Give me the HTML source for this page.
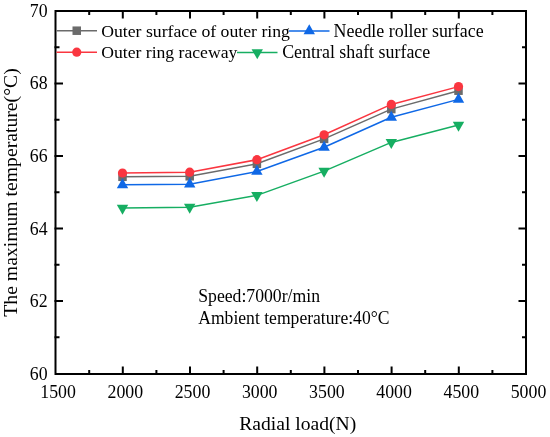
<!DOCTYPE html>
<html><head><meta charset="utf-8"><style>
html,body{margin:0;padding:0;background:#fff;}
svg{display:block;font-family:"Liberation Serif", "Times New Roman", serif;}
</style></head><body>
<svg width="550" height="437" viewBox="0 0 550 437">
<rect width="550" height="437" fill="#fff"/>
<rect x="55.5" y="11.0" width="470.50" height="363.00" fill="none" stroke="#000" stroke-width="2"/>
<path d="M89.20,375.00V370.00M89.20,10.00V15.00M122.80,375.00V366.50M122.80,10.00V18.50M156.40,375.00V370.00M156.40,10.00V15.00M190.00,375.00V366.50M190.00,10.00V18.50M223.60,375.00V370.00M223.60,10.00V15.00M257.20,375.00V366.50M257.20,10.00V18.50M290.80,375.00V370.00M290.80,10.00V15.00M324.40,375.00V366.50M324.40,10.00V18.50M358.00,375.00V370.00M358.00,10.00V15.00M391.60,375.00V366.50M391.60,10.00V18.50M425.20,375.00V370.00M425.20,10.00V15.00M458.80,375.00V366.50M458.80,10.00V18.50M492.40,375.00V370.00M492.40,10.00V15.00M54.50,337.34H59.50M527.00,337.34H522.00M54.50,301.08H63.00M527.00,301.08H518.50M54.50,264.82H59.50M527.00,264.82H522.00M54.50,228.56H63.00M527.00,228.56H518.50M54.50,192.30H59.50M527.00,192.30H522.00M54.50,156.04H63.00M527.00,156.04H518.50M54.50,119.78H59.50M527.00,119.78H522.00M54.50,83.52H63.00M527.00,83.52H518.50M54.50,47.26H59.50M527.00,47.26H522.00" stroke="#000" stroke-width="2" fill="none"/>
<polyline points="122.50,176.80 189.70,176.30 256.90,163.80 324.10,138.90 391.30,109.10 458.50,90.70" fill="none" stroke="#6b6b6b" stroke-width="1.5" stroke-linejoin="round"/>
<rect x="118.25" y="172.55" width="8.5" height="8.5" fill="#6b6b6b"/>
<rect x="185.45" y="172.05" width="8.5" height="8.5" fill="#6b6b6b"/>
<rect x="252.65" y="159.55" width="8.5" height="8.5" fill="#6b6b6b"/>
<rect x="319.85" y="134.65" width="8.5" height="8.5" fill="#6b6b6b"/>
<rect x="387.05" y="104.85" width="8.5" height="8.5" fill="#6b6b6b"/>
<rect x="454.25" y="86.45" width="8.5" height="8.5" fill="#6b6b6b"/>
<polyline points="122.50,184.85 189.70,184.15 256.90,171.50 324.10,147.30 391.30,117.30 458.50,99.40" fill="none" stroke="#0f68e6" stroke-width="1.5" stroke-linejoin="round"/>
<polygon points="122.50,178.18 128.20,188.18 116.80,188.18" fill="#0f68e6"/>
<polygon points="189.70,177.48 195.40,187.48 184.00,187.48" fill="#0f68e6"/>
<polygon points="256.90,164.83 262.60,174.83 251.20,174.83" fill="#0f68e6"/>
<polygon points="324.10,140.63 329.80,150.63 318.40,150.63" fill="#0f68e6"/>
<polygon points="391.30,110.63 397.00,120.63 385.60,120.63" fill="#0f68e6"/>
<polygon points="458.50,92.73 464.20,102.73 452.80,102.73" fill="#0f68e6"/>
<polyline points="122.50,173.00 189.70,172.20 256.90,159.70 324.10,134.80 391.30,104.40 458.50,86.60" fill="none" stroke="#fa3640" stroke-width="1.5" stroke-linejoin="round"/>
<circle cx="122.50" cy="173.00" r="4.6" fill="#fa3640"/>
<circle cx="189.70" cy="172.20" r="4.6" fill="#fa3640"/>
<circle cx="256.90" cy="159.70" r="4.6" fill="#fa3640"/>
<circle cx="324.10" cy="134.80" r="4.6" fill="#fa3640"/>
<circle cx="391.30" cy="104.40" r="4.6" fill="#fa3640"/>
<circle cx="458.50" cy="86.60" r="4.6" fill="#fa3640"/>
<polyline points="122.50,208.00 189.70,207.20 256.90,195.40 324.10,171.10 391.30,142.40 458.50,125.10" fill="none" stroke="#16ae62" stroke-width="1.5" stroke-linejoin="round"/>
<polygon points="122.50,214.67 128.20,204.67 116.80,204.67" fill="#16ae62"/>
<polygon points="189.70,213.87 195.40,203.87 184.00,203.87" fill="#16ae62"/>
<polygon points="256.90,202.07 262.60,192.07 251.20,192.07" fill="#16ae62"/>
<polygon points="324.10,177.77 329.80,167.77 318.40,167.77" fill="#16ae62"/>
<polygon points="391.30,149.07 397.00,139.07 385.60,139.07" fill="#16ae62"/>
<polygon points="458.50,131.77 464.20,121.77 452.80,121.77" fill="#16ae62"/>
<g font-size="17.8"><text x="58.10" y="397.8" text-anchor="middle">1500</text><text x="125.30" y="397.8" text-anchor="middle">2000</text><text x="192.50" y="397.8" text-anchor="middle">2500</text><text x="259.70" y="397.8" text-anchor="middle">3000</text><text x="326.90" y="397.8" text-anchor="middle">3500</text><text x="394.10" y="397.8" text-anchor="middle">4000</text><text x="461.30" y="397.8" text-anchor="middle">4500</text><text x="528.50" y="397.8" text-anchor="middle">5000</text><text x="47.6" y="379.90" text-anchor="end">60</text><text x="47.6" y="307.22" text-anchor="end">62</text><text x="47.6" y="234.54" text-anchor="end">64</text><text x="47.6" y="161.86" text-anchor="end">66</text><text x="47.6" y="89.18" text-anchor="end">68</text><text x="47.6" y="16.50" text-anchor="end">70</text></g>
<text x="239.3" y="429.6" font-size="19.6">Radial load(N)</text>
<text transform="translate(17.4,192.5) rotate(-90)" text-anchor="middle" font-size="19.7">The maximum temperature(°C)</text>
<text transform="translate(198.2,301.8) scale(1,1.1)" font-size="17.7">Speed:7000r/min</text>
<text transform="translate(198.2,323.5) scale(1,1.1)" font-size="17.6">Ambient temperature:40°C</text>
<g font-size="17.9"><line x1="56.5" y1="30.7" x2="97" y2="30.7" stroke="#6b6b6b" stroke-width="1.5"/><rect x="72.50" y="26.45" width="8.5" height="8.5" fill="#6b6b6b"/><text x="101.2" y="36.8" font-size="17.72">Outer surface of outer ring</text><line x1="289" y1="31" x2="329.5" y2="31" stroke="#0f68e6" stroke-width="1.5"/><polygon points="309.25,24.33 314.95,34.33 303.55,34.33" fill="#0f68e6"/><text x="333.6" y="36.8">Needle roller surface</text><line x1="56.5" y1="52.2" x2="97" y2="52.2" stroke="#fa3640" stroke-width="1.5"/><circle cx="76.75" cy="52.20" r="4.6" fill="#fa3640"/><text x="101.2" y="57.8" font-size="17.65">Outer ring raceway</text><line x1="237" y1="52.6" x2="277.5" y2="52.6" stroke="#16ae62" stroke-width="1.5"/><polygon points="257.25,59.27 262.95,49.27 251.55,49.27" fill="#16ae62"/><text x="282.2" y="57.8">Central shaft surface</text></g>
</svg>
</body></html>
